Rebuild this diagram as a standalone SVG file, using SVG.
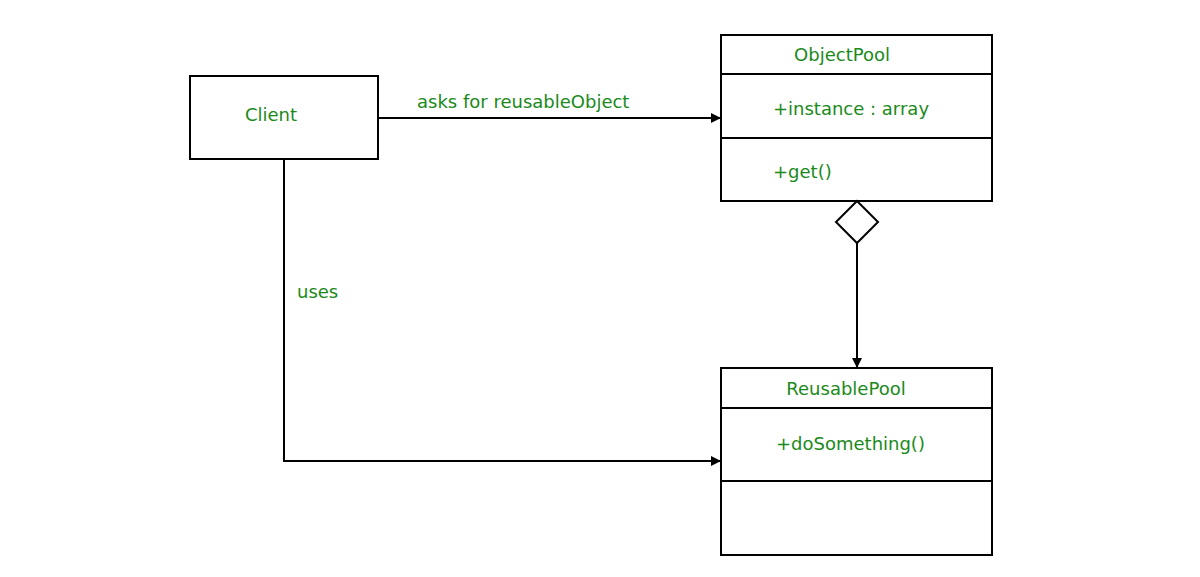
<svg xmlns="http://www.w3.org/2000/svg" width="1200" height="577" viewBox="0 0 1200 577">
<defs>
<style>
.b{fill:#fff;stroke:#000;stroke-width:2}
.l{stroke:#000;stroke-width:2;fill:none}
text{font-family:"DejaVu Sans",sans-serif;font-size:18px;fill:#1a8a1a}
</style>
<marker id="a" markerWidth="10" markerHeight="10" refX="9" refY="5" orient="auto" markerUnits="userSpaceOnUse"><path d="M0,0 L10,5 L0,10 Z" fill="#000"/></marker>
</defs>
<rect width="1200" height="577" fill="#fff"/>
<g id="client"><rect class="b" x="190" y="76" width="188" height="83"/><text x="271" y="121" text-anchor="middle">Client</text></g>
<g id="objectpool"><rect class="b" x="721" y="35" width="271" height="166"/><line class="l" x1="721" y1="74" x2="992" y2="74"/><line class="l" x1="721" y1="138" x2="992" y2="138"/><text x="842" y="61" text-anchor="middle">ObjectPool</text><text x="773" y="115">+instance : array</text><text x="773" y="178">+get()</text></g>
<g id="reusablepool"><rect class="b" x="721" y="368" width="271" height="187"/><line class="l" x1="721" y1="408" x2="992" y2="408"/><line class="l" x1="721" y1="481" x2="992" y2="481"/><text x="846" y="395" text-anchor="middle">ReusablePool</text><text x="776" y="450">+doSomething()</text></g>
<g id="connectors">
<line class="l" x1="378" y1="118" x2="720" y2="118" marker-end="url(#a)"/>
<text x="417" y="108">asks for reusableObject</text>
<polyline class="l" points="284,159 284,461 720,461" marker-end="url(#a)"/>
<text x="297" y="298">uses</text>
<path class="b" d="M857,201 L878,222 L857,243 L836,222 Z"/>
<line class="l" x1="857" y1="243" x2="857" y2="367" marker-end="url(#a)"/>
</g>
</svg>
